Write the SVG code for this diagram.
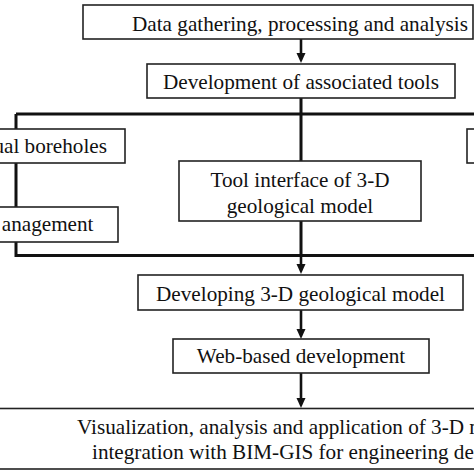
<svg xmlns="http://www.w3.org/2000/svg" width="474" height="474" viewBox="0 0 474 474">
<style>
.box{fill:#fff;stroke:#222;stroke-width:1.6}
.t{font-family:"Liberation Serif","Times New Roman",serif;font-size:21.2px;fill:#111}
.c{text-anchor:middle}
.e{text-anchor:end}
.ln{fill:none;stroke:#111;stroke-width:3}
.ar{fill:none;stroke:#111;stroke-width:2.6;marker-end:url(#ah)}
</style>
<defs>
<marker id="ah" markerUnits="userSpaceOnUse" markerWidth="12" markerHeight="12" refX="2" refY="5" orient="auto">
<path d="M0,0.5 L10,5 L0,9.5 z" fill="#111"/>
</marker>
</defs>
<rect width="474" height="474" fill="#fff"/>
<g id="connectors">
<path class="ar" d="M301,39 V55"/>
<path class="ln" d="M301,98 V114 M16,114 H480 M16,114 V129 M301,114 V161 M16,163 V207 M16,242 V255.5 H480 M301,221 V256"/>
<path class="ar" d="M301,256 V266"/>
<path class="ar" d="M301,310 V331"/>
<path class="ar" d="M301,373 V400"/>
</g>
<g id="n-data">
<rect class="box" x="83" y="5" width="390" height="34"/>
<text class="t" x="132" y="30.5">Data gathering, processing and analysis</text>
</g>
<g id="n-tools">
<rect class="box" x="147" y="64" width="308" height="34"/>
<text class="t c" x="301" y="89">Development of associated tools</text>
</g>
<g id="n-boreholes">
<rect class="box" x="-10" y="129" width="135" height="34"/>
<text class="t e" x="107" y="153">ual boreholes</text>
</g>
<g id="n-management">
<rect class="box" x="-10" y="207" width="128" height="35"/>
<text class="t e" x="93.5" y="231">anagement</text>
</g>
<g id="n-right">
<rect class="box" x="467" y="129" width="30" height="34"/>
</g>
<g id="n-interface">
<rect class="box" x="179" y="161" width="242" height="60"/>
<text class="t c" x="300" y="187">Tool interface of 3-D</text>
<text class="t c" x="300" y="213">geological model</text>
</g>
<g id="n-developing">
<rect class="box" x="138" y="275" width="325" height="35"/>
<text class="t c" x="300.5" y="301">Developing 3-D geological model</text>
</g>
<g id="n-web">
<rect class="box" x="173" y="339" width="256" height="34"/>
<text class="t c" x="301" y="363">Web-based development</text>
</g>
<g id="n-visual">
<rect class="box" x="-5" y="408.5" width="490" height="60.5"/>
<text class="t" x="77" y="434">Visualization, analysis and application of 3-D m</text>
<text class="t" x="92" y="459">integration with BIM-GIS for engineering de</text>
</g>
</svg>
